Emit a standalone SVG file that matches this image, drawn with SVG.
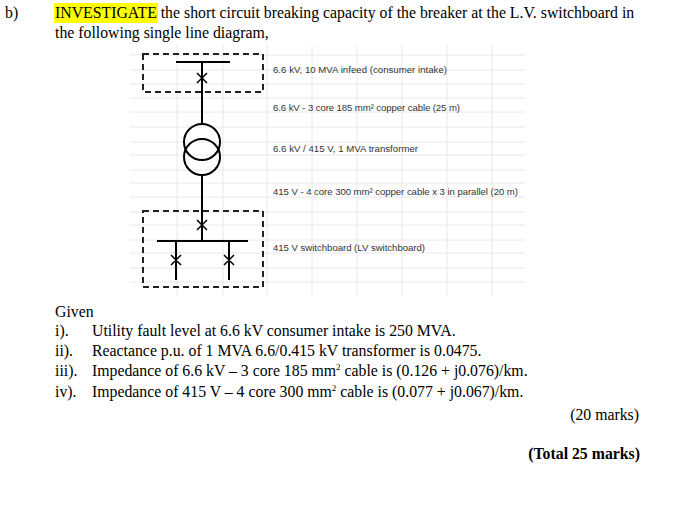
<svg xmlns="http://www.w3.org/2000/svg" width="700" height="513" viewBox="0 0 700 513">
<style>
.t{font-family:"Liberation Sans Narrow","Liberation Serif",serif;font-size:15.8px;fill:#000}
.t{font-family:"Liberation Serif",serif}
.s{font-family:"Liberation Sans",sans-serif;font-size:9.6px;fill:#333}
.g{stroke:#e2e2e2;stroke-width:0.8}
.w{stroke:#000;stroke-width:2;fill:none}
.d{stroke:#222;stroke-width:2;fill:none;stroke-dasharray:6,4}
.x{stroke:#000;stroke-width:1.5}
</style>
<rect width="700" height="513" fill="#fff"/>
<rect x="54" y="3" width="104" height="20" fill="#ffff00"/>
<text class="t" x="5" y="18">b)</text>
<text class="t" x="55" y="18">INVESTIGATE the short circuit breaking capacity of the breaker at the L.V. switchboard in</text>
<text class="t" x="55" y="38">the following single line diagram,</text>
<g id="grid">
<path class="g" d="M130 55H525M130 70H525M130 84H525M130 98H525M130 112H525M130 127H525M130 142H525M130 155H525M130 170H525M130 183H525M130 197H525M130 212H525M130 225H525M130 240H525M130 253H525M130 268H525M130 282H525M177 45V295M223 45V295M267 45V295M312 45V295M357 45V295M402 45V295M447 45V295M492 45V295"/>
</g>
<g id="connectors">
<path class="w" d="M202 62V124M202 175V241M176 241V280M229 241V280"/>
</g>
<g id="intake">
<rect class="d" x="143" y="54" width="120" height="38"/>
<path class="w" d="M176 62H230"/>
<path class="x" d="M197 73L207 83M207 73L197 83"/>
<text class="s" x="273" y="73" textLength="174">6.6 kV, 10 MVA infeed (consumer intake)</text>
</g>
<g id="cable1"><text class="s" x="273" y="111" textLength="187">6.6 kV - 3 core 185 mm² copper cable (25 m)</text></g>
<g id="transformer">
<circle class="w" cx="202" cy="142" r="18"/>
<circle class="w" cx="202" cy="157" r="18"/>
<text class="s" x="273" y="152" textLength="145">6.6 kV / 415 V, 1 MVA transformer</text>
</g>
<g id="cable2"><text class="s" x="273" y="195" textLength="245">415 V - 4 core 300 mm² copper cable x 3 in parallel (20 m)</text></g>
<g id="switchboard">
<rect class="d" x="143" y="211" width="120" height="76"/>
<path class="w" d="M157 241H248"/>
<path class="x" d="M197 220L207 230M207 220L197 230M171 255L181 265M181 255L171 265M224 255L234 265M234 255L224 265"/>
<text class="s" x="273" y="251" textLength="152">415 V switchboard (LV switchboard)</text>
</g>
<text class="t" x="55" y="317">Given</text>
<text class="t" x="55" y="336">i).</text><text class="t" x="92" y="336">Utility fault level at 6.6 kV consumer intake is 250 MVA.</text>
<text class="t" x="55" y="356">ii).</text><text class="t" x="92" y="356">Reactance p.u. of 1 MVA 6.6/0.415 kV transformer is 0.0475.</text>
<text class="t" x="55" y="376">iii).</text><text class="t" x="92" y="376">Impedance of 6.6 kV – 3 core 185 mm<tspan font-size="9" dy="-6">2</tspan><tspan dy="6"> cable is (0.126 + j0.076)/km.</tspan></text>
<text class="t" x="55" y="397">iv).</text><text class="t" x="92" y="397">Impedance of 415 V – 4 core 300 mm<tspan font-size="9" dy="-6">2</tspan><tspan dy="6"> cable is (0.077 + j0.067)/km.</tspan></text>
<text class="t" x="639" y="420" text-anchor="end">(20 marks)</text>
<text class="t" x="640" y="459" text-anchor="end" font-weight="bold">(Total 25 marks)</text>
</svg>
